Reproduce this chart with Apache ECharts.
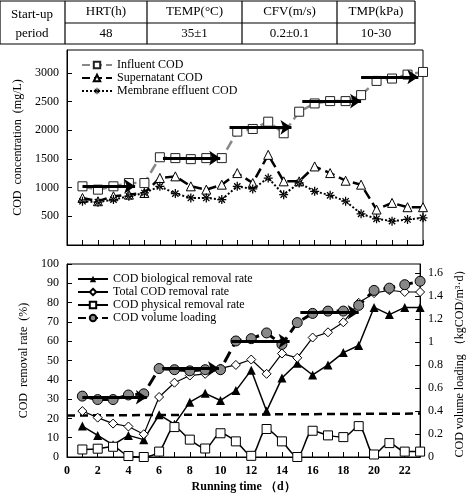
<!DOCTYPE html>
<html>
<head>
<meta charset="utf-8">
<script src="https://cdn.jsdelivr.net/npm/echarts@6/dist/echarts.min.js"></script>
<style>html,body{margin:0;padding:0;background:#fff}#main{width:474px;height:500px}</style>
</head>
<body>
<div id="main"></div>
<script>
var days = [1,2,3,4,5,6,7,8,9,10,11,12,13,14,15,16,17,18,19,20,21,22,23];
// top chart, mg/L
var influent = [1023,965,1023,1080,1080,1530,1515,1497,1515,1515,1977,2023,2150,1948,2324,2468,2509,2509,2613,2861,2902,2971,3017];
var supernatant = [820,763,850,878,907,1168,1197,1023,965,1052,1254,1080,1572,1110,1110,1370,1254,1121,1052,618,734,659,659];
var membrane = [763,746,792,850,907,1023,896,820,820,792,1023,977,1168,878,1081,936,867,763,543,457,416,445,474];
// bottom chart, %
var bioRate = [16,11.2,6.3,11.2,9,21.9,17,28.4,33,29.3,34.4,45,23.8,40.9,48.6,42.5,47.7,54.1,57.8,77.5,73.8,77.5,77.5];
var totalRate = [23.8,20.4,17.3,15.8,11.8,31.1,38.5,42.2,43.1,45.9,47.7,50.5,43.1,53.6,51.4,61.9,64.6,69.8,79.9,84.9,86.4,85.5,85.5];
var physRate = [3.9,4.3,5.3,0.5,0,2.8,15.5,9,4.4,12.3,8.1,0.6,14.5,8.1,0,13.6,11.2,10.3,16,1.3,7.2,2.8,2.8];
// kgCOD/m3.d
var volLoad = [0.53,0.50,0.50,0.54,0.55,0.77,0.76,0.75,0.76,0.76,1.01,1.03,1.08,0.98,1.17,1.25,1.27,1.27,1.32,1.45,1.47,1.50,1.53];
var refLine = [[0,21.5],[23,22.5]];
// plateau arrows: [x0, x1, y]
var topArrows = [[1,4.4,1023],[6.2,9.9,1515],[10.5,14.5,2052],[15.2,19,2509],[19,22.7,2931]];
var botArrows = [[1,5.2,0.52],[6.2,9.9,0.77],[10.7,14.5,1.01],[15.2,19,1.26],[19.8,23.3,1.51]];
var tableHead = ['HRT(h)','TEMP(°C)','CFV(m/s)','TMP(kPa)'];
var tableVals = ['48','35±1','0.2±0.1','10-30'];

function pairs(arr) {
    return days.map(function (d, i) { return [d, arr[i]]; });
}
function arrowData(list) {
    return list.map(function (a) { return [{ coord: [a[0], a[2]] }, { coord: [a[1], a[2]] }]; });
}

var F = 'Liberation Serif, DejaVu Serif, serif';
var asterisk = 'path://M-4,-3L-3,-4L4,3L3,4Z M4,-3L3,-4L-4,3L-3,4Z M-0.7,-5H0.7V5H-0.7Z M-5,-0.7H5V0.7H-5Z';

var graphics = [];
var colX = [0, 65, 147, 242, 337, 415];
graphics.push({ type: 'line', shape: { x1: 0, y1: 1, x2: 415, y2: 1 }, style: { stroke: '#000', lineWidth: 1.2 } });
graphics.push({ type: 'line', shape: { x1: 65, y1: 23, x2: 415, y2: 23 }, style: { stroke: '#000', lineWidth: 1.2 } });
graphics.push({ type: 'line', shape: { x1: 0, y1: 44, x2: 415, y2: 44 }, style: { stroke: '#000', lineWidth: 1.2 } });
colX.forEach(function (x) {
    graphics.push({ type: 'line', shape: { x1: x, y1: 1, x2: x, y2: 44 }, style: { stroke: '#000', lineWidth: 1.2 } });
});
graphics.push({ type: 'text', x: 32, y: 15, style: { text: 'Start-up', font: '13px ' + F, textAlign: 'center', textVerticalAlign: 'middle' } });
graphics.push({ type: 'text', x: 32, y: 34, style: { text: 'period', font: '13px ' + F, textAlign: 'center', textVerticalAlign: 'middle' } });
for (var i = 0; i < 4; i++) {
    var cx = (colX[i + 1] + colX[i + 2]) / 2;
    graphics.push({ type: 'text', x: cx, y: 12, style: { text: tableHead[i], font: '13px ' + F, textAlign: 'center', textVerticalAlign: 'middle' } });
    graphics.push({ type: 'text', x: cx, y: 34, style: { text: tableVals[i], font: '13px ' + F, textAlign: 'center', textVerticalAlign: 'middle' } });
}

var axisCommon = {
    axisLine: { show: true, lineStyle: { color: '#000' } },
    axisTick: { inside: true, lineStyle: { color: '#000' } },
    splitLine: { show: false },
    axisLabel: { color: '#000', fontFamily: F, fontSize: 12 }
};

var myChart = echarts.init(document.getElementById('main'));
var option = {
    animation: false,
    textStyle: { fontFamily: F },
    graphic: graphics,
    grid: [
        { left: 67, right: 51, top: 50, height: 195, show: true, borderColor: '#000', borderWidth: 1 },
        { left: 67, right: 46, top: 264, height: 193, show: true, borderColor: '#000', borderWidth: 1 }
    ],
    legend: [
        {
            left: 76, top: 54, orient: 'vertical', itemGap: 1, itemWidth: 30, itemHeight: 8,
            textStyle: { fontFamily: F, fontSize: 12, color: '#000' },
            data: ['Influent COD', 'Supernatant COD', 'Membrane effluent COD']
        },
        {
            left: 72, top: 268, orient: 'vertical', itemGap: 1, itemWidth: 30, itemHeight: 8,
            textStyle: { fontFamily: F, fontSize: 12, color: '#000' },
            data: ['COD biological removal rate', 'Total COD removal rate', 'COD physical removal rate', 'COD volume loading']
        }
    ],
    xAxis: [
        Object.assign({}, axisCommon, { gridIndex: 0, type: 'value', min: 0, max: 23, interval: 1, axisLabel: { show: false } }),
        Object.assign({}, axisCommon, {
            gridIndex: 1, type: 'value', min: 0, max: 23, interval: 1,
            axisLabel: { color: '#000', fontFamily: F, fontSize: 12, fontWeight: 'bold', formatter: function (v) { return v % 2 === 0 && v < 23 ? v : ''; } },
            name: 'Running time （d）', nameLocation: 'middle', nameGap: 24,
            nameTextStyle: { fontFamily: F, fontSize: 12, fontWeight: 'bold', color: '#000' }
        })
    ],
    yAxis: [
        Object.assign({}, axisCommon, {
            gridIndex: 0, type: 'value', min: 0, max: 3400, interval: 500,
            axisLabel: { color: '#000', fontFamily: F, fontSize: 12, showMinLabel: false, showMaxLabel: false, formatter: function (v) { return String(v); } },
            name: 'COD  concentration  (mg/L)', nameLocation: 'middle', nameGap: 40,
            nameTextStyle: { fontFamily: F, fontSize: 12, color: '#000' }
        }),
        Object.assign({}, axisCommon, {
            gridIndex: 1, type: 'value', min: 0, max: 100, interval: 10,
            name: 'COD  removal rate  (%)', nameLocation: 'middle', nameGap: 32,
            nameTextStyle: { fontFamily: F, fontSize: 12, color: '#000' }
        }),
        Object.assign({}, axisCommon, {
            gridIndex: 1, type: 'value', position: 'right', min: 0, max: 1.68, interval: 0.2,
            axisLabel: { color: '#000', fontFamily: F, fontSize: 12, showMaxLabel: false, formatter: function (v) { return +v.toFixed(1); } },
            name: 'COD volume loading （kgCOD/m³·d）', nameLocation: 'middle', nameGap: 28,
            nameTextStyle: { fontFamily: F, fontSize: 12, color: '#000' }
        })
    ],
    series: [
        {
            name: 'Influent COD', type: 'line', xAxisIndex: 0, yAxisIndex: 0, data: pairs(influent),
            symbol: 'rect', symbolSize: 9, itemStyle: { color: '#fff', borderColor: '#222', borderWidth: 1 },
            lineStyle: { color: '#888', width: 2.5, type: 'dashed' }, z: 3
        },
        {
            name: 'Supernatant COD', type: 'line', xAxisIndex: 0, yAxisIndex: 0, data: pairs(supernatant),
            symbol: 'triangle', symbolSize: 9, itemStyle: { color: '#fff', borderColor: '#000', borderWidth: 1 },
            lineStyle: { color: '#000', width: 2.5, type: 'dashed' }
        },
        {
            name: 'Membrane effluent COD', type: 'line', xAxisIndex: 0, yAxisIndex: 0, data: pairs(membrane),
            symbol: asterisk, symbolSize: 9, itemStyle: { color: '#000' },
            lineStyle: { color: '#000', width: 2, type: 'dotted' }
        },
        {
            type: 'line', xAxisIndex: 0, yAxisIndex: 0, data: [], silent: true,
            markLine: {
                silent: true, symbol: ['none', 'arrow'], symbolSize: 11, label: { show: false },
                lineStyle: { color: '#000', width: 3, type: 'solid' }, data: arrowData(topArrows)
            }, z: 5
        },
        {
            name: 'COD biological removal rate', type: 'line', xAxisIndex: 1, yAxisIndex: 1, data: pairs(bioRate),
            symbol: 'triangle', symbolSize: 9, itemStyle: { color: '#000' },
            lineStyle: { color: '#000', width: 1.5 }
        },
        {
            name: 'Total COD removal rate', type: 'line', xAxisIndex: 1, yAxisIndex: 1, data: pairs(totalRate),
            symbol: 'diamond', symbolSize: 9, itemStyle: { color: '#fff', borderColor: '#000', borderWidth: 1 },
            lineStyle: { color: '#000', width: 1.2 }
        },
        {
            name: 'COD physical removal rate', type: 'line', xAxisIndex: 1, yAxisIndex: 1, data: pairs(physRate),
            symbol: 'rect', symbolSize: 9, itemStyle: { color: '#fff', borderColor: '#000', borderWidth: 1 },
            lineStyle: { color: '#000', width: 1.5 }, smooth: 0.3
        },
        {
            name: 'COD volume loading', type: 'line', xAxisIndex: 1, yAxisIndex: 2, data: pairs(volLoad),
            symbol: 'circle', symbolSize: 10, itemStyle: { color: '#888', borderColor: '#000', borderWidth: 1 },
            lineStyle: { color: '#000', width: 3, type: 'dashed' }
        },
        {
            type: 'line', xAxisIndex: 1, yAxisIndex: 1, data: refLine, symbol: 'none', silent: true,
            lineStyle: { color: '#000', width: 2.5, type: [8, 5] }
        },
        {
            type: 'line', xAxisIndex: 1, yAxisIndex: 2, data: [], silent: true,
            markLine: {
                silent: true, symbol: ['none', 'arrow'], symbolSize: 11, label: { show: false },
                lineStyle: { color: '#000', width: 3, type: 'solid' }, data: arrowData(botArrows)
            }, z: 5
        }
    ]
};
myChart.setOption(option);
</script>
</body>
</html>
